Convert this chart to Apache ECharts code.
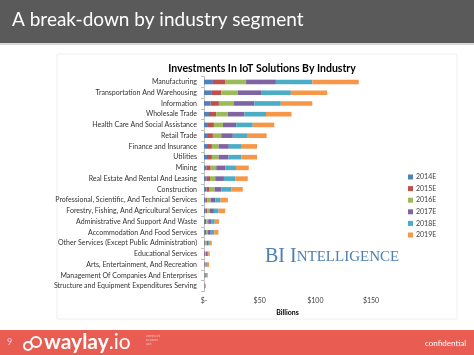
<!DOCTYPE html>
<html><head><meta charset="utf-8">
<style>html,body{margin:0;padding:0;background:#fff}#c{width:474px;height:355px}</style>
<script src="https://cdn.jsdelivr.net/npm/echarts@6/dist/echarts.min.js"></script>
</head><body><div id="c"></div>
<script>
var categories = ["Manufacturing","Transportation And Warehousing","Information","Wholesale Trade","Health Care And Social Assistance","Retail Trade","Finance and Insurance","Utilities","Mining","Real Estate And Rental And Leasing","Construction","Professional, Scientific, And Technical Services","Forestry, Fishing, And Agricultural Services","Administrative And Support And Waste","Accommodation And Food Services","Other Services (Except Public Administration)","Educational Services","Arts, Entertainment, And Recreation","Management Of Companies And Enterprises","Structure and Equipment Expenditures Serving"];
var seriesNames = ["2014E","2015E","2016E","2017E","2018E","2019E"];
var s2014 = [8.0, 7.1, 6.0, 4.5, 3.6, 3.6, 2.7, 2.7, 2.1, 2.1, 2.2, 1.3, 1.2, 0.8, 0.8, 0.6, 0.4, 0.4, 0.3, 0.15];
var s2015 = [11.3, 8.4, 7.4, 6.5, 5.3, 4.4, 4.4, 4.4, 3.9, 3.3, 2.9, 1.7, 1.8, 1.2, 1.1, 0.8, 0.6, 0.5, 0.4, 0.2];
var s2016 = [18.5, 14.9, 13.1, 10.4, 8.1, 7.5, 6.0, 6.0, 5.0, 4.7, 4.4, 3.0, 2.4, 1.8, 1.7, 1.0, 0.8, 0.7, 0.5, 0.25];
var s2017 = [26.8, 20.8, 18.7, 14.9, 11.9, 10.4, 9.2, 8.9, 8.0, 7.8, 6.0, 4.1, 3.5, 2.6, 2.5, 1.3, 0.9, 0.8, 0.6, 0.3];
var s2018 = [32.7, 26.8, 23.8, 19.4, 14.9, 13.4, 11.6, 11.6, 9.8, 10.1, 8.9, 4.8, 4.2, 3.2, 3.1, 1.5, 1.1, 1.0, 0.7, 0.4];
var s2019 = [41.7, 32.7, 28.3, 22.9, 19.3, 17.0, 13.7, 14.0, 11.4, 11.3, 10.4, 6.5, 5.9, 3.8, 3.7, 1.8, 1.3, 1.1, 0.9, 0.5];
var xTicks = [0, 50, 100, 150];
var colors = ["#4F81BD","#C0504D","#9BBB59","#8064A2","#4BACC6","#F79646"];

var allData = [s2014, s2015, s2016, s2017, s2018, s2019];
var chart = echarts.init(document.getElementById('c'), null, {renderer: 'canvas'});
var series = seriesNames.map(function (n, i) {
  return {name: n, type: 'bar', stack: 'total', data: allData[i], barWidth: 4.6,
    itemStyle: {color: colors[i]}, emphasis: {disabled: true}};
});
chart.setOption({
  animation: false,
  color: colors,
  title: {
    text: 'Investments In IoT Solutions By Industry',
    left: 257, top: 58, textAlign: 'center',
    textStyle: {fontFamily: 'Lato', fontWeight: 'bold', fontSize: 10.5, color: '#000'}
  },
  legend: {
    orient: 'vertical', left: 403, top: 168,
    data: seriesNames, icon: 'rect', itemWidth: 5, itemHeight: 5, itemGap: 3.6,
    textStyle: {fontFamily: 'Lato', fontSize: 7, color: '#404040', lineHeight: 8, padding: [0,0,0,-2]}
  },
  grid: {left: 204, right: 474 - 371, top: 76.6, bottom: 355 - 291.4, containLabel: false},
  xAxis: {
    type: 'value', min: xTicks[0], max: xTicks[xTicks.length - 1], interval: 50,
    axisLine: {show: false}, axisTick: {show: false}, splitLine: {show: false},
    axisLabel: {fontFamily: 'Lato', fontSize: 7, color: '#404040', margin: 6,
      formatter: function (v) { return v === 0 ? '$-' : '$' + v; }},
    name: 'Billions', nameLocation: 'middle', nameGap: 17,
    nameTextStyle: {fontFamily: 'Lato', fontSize: 7, fontWeight: 'bold', color: '#000'}
  },
  yAxis: {
    type: 'category', data: categories, inverse: true,
    axisLine: {show: true, lineStyle: {color: '#bfbfbf', width: 1}},
    axisTick: {show: true, length: 3, lineStyle: {color: '#bfbfbf'}},
    axisLabel: {fontFamily: 'Lato', fontSize: 7, color: '#333', margin: 7}
  },
  graphic: [
    {type: 'rect', shape: {x: 0, y: 0, width: 474, height: 43}, style: {fill: '#5a5a5a'}, z: -10},
    {type: 'rect', shape: {x: 0, y: 43, width: 474, height: 2}, style: {fill: '#d9d9d9'}, z: -10},
    {type: 'text', left: 12, top: 10, style: {text: 'A break-down by industry segment', fill: '#fff', font: '19px Lato'}},
    {type: 'rect', shape: {x: 57, y: 54, width: 400, height: 265}, style: {fill: 'none', stroke: '#eeeeee', lineWidth: 1}, z: -5},
    {type: 'text', left: 265, top: 247, style: {
      rich: {b: {fontFamily: 'Liberation Serif', fontSize: 20, fill: '#4d7fb0'}, s: {fontFamily: 'Liberation Serif', fontSize: 15, fill: '#4d7fb0'}},
      text: '{b|BI I}{s|NTELLIGENCE}'}},
    {type: 'rect', shape: {x: 0, y: 330, width: 474, height: 25}, style: {fill: '#e85c52'}, z: -10},
    {type: 'text', left: 7, top: 338, style: {text: '9', fill: '#fce', font: '9px Lato'}},
    {type: 'circle', shape: {cx: 28, cy: 346, r: 4}, style: {fill: 'none', stroke: '#fff', lineWidth: 2}},
    {type: 'circle', shape: {cx: 36, cy: 342, r: 5}, style: {fill: 'none', stroke: '#fff', lineWidth: 2}},
    {type: 'text', left: 44, top: 332, style: {
      rich: {a: {fontFamily: 'Lato', fontWeight: 'bold', fontSize: 21, fill: '#fff'}, b: {fontFamily: 'Lato', fontSize: 21, fill: '#fff'}},
      text: '{a|waylay}{b|.io}'}},
    {type: 'text', left: 146, top: 334, style: {text: 'connect\nreason\nact', fill: '#f5c2be', font: '4px Lato', lineHeight: 4}},
    {type: 'text', left: 425, top: 339, style: {text: 'confidential', fill: '#fff', font: '8px Lato'}}
  ],
  series: series
});
</script></body></html>
